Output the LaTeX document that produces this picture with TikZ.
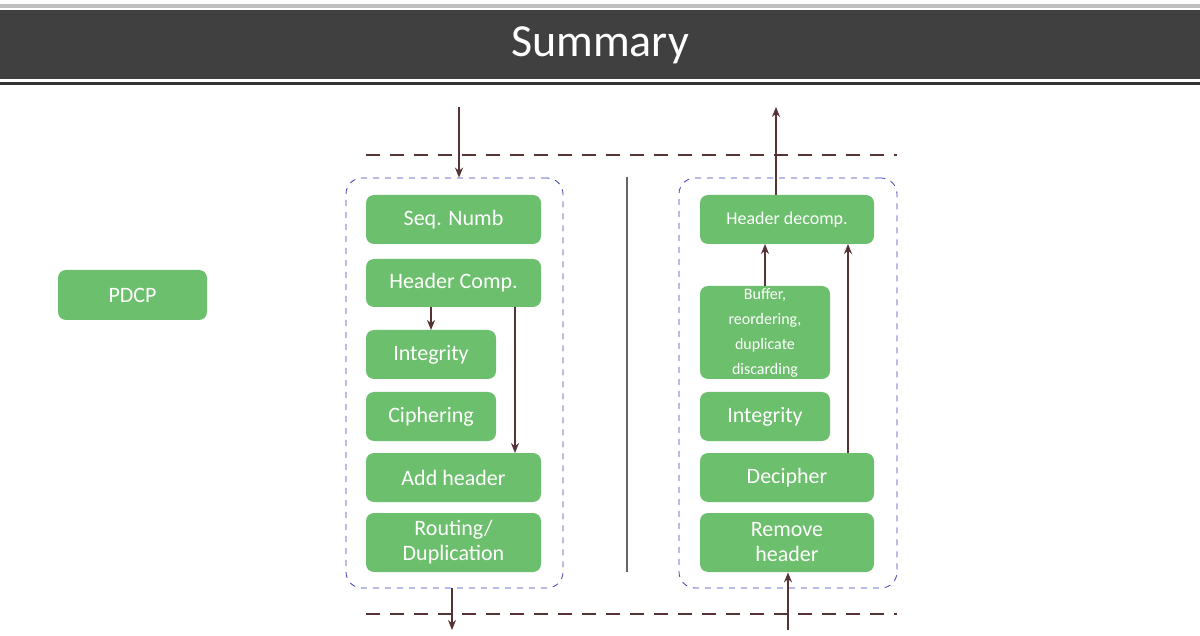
\documentclass[tikz,border=0pt]{standalone}
\usepackage{fontspec}
\setmainfont{Carlito}
\usetikzlibrary{arrows.meta}
\begin{document}
\begin{tikzpicture}[x=0.5pt,y=-0.5pt,
  box/.style={fill=boxg, rounded corners=4pt, text=white, align=center, font=\fontsize{11}{12.5}\selectfont},
  cont/.style={draw=blue!50!gray, dashed, rounded corners=8pt},
  arr/.style={draw=arrc, line width=0.9pt, -{Stealth[length=5pt,width=4pt]}},
  dl/.style={draw=arrc, line width=1pt, dash pattern=on 7pt off 5pt}]
\definecolor{boxg}{HTML}{6CBF6C}
\definecolor{arrc}{HTML}{553333}
\path[use as bounding box, fill=white] (0,0) rectangle (1200,636);
\fill[black!25] (0,4) rectangle (1200,8);
\fill[black!75] (0,10) rectangle (1200,79);
\fill[black!80] (0,82) rectangle (1200,85);
\node[text=white, font=\fontsize{23}{26}\selectfont] (title) at (600,45) {Summary};
\newcommand{\bx}[6]{\node[box, minimum width=#4*0.5pt-#2*0.5pt, minimum height=#5*0.5pt-#3*0.5pt, inner sep=1pt] (#1) at ({(#2+#4)/2},{(#3+#5)/2}) {#6};}
\bx{pdcp}{58}{270}{207}{320}{PDCP}
\node[cont, minimum width=108.5pt, minimum height=205pt] (lc) at (454.5,383) {};
\node[cont, minimum width=109pt, minimum height=205pt] (rc) at (788,383) {};
\bx{seq}{366}{195}{541}{244}{Seq. Numb}
\bx{hc}{366}{259}{541}{307}{Header Comp.}
\bx{int}{366}{330}{496}{379}{Integrity}
\bx{ciph}{366}{392}{496}{441}{Ciphering}
\bx{addh}{366}{453}{541}{502}{Add header}
\bx{rout}{366}{513}{541}{572}{Routing/\\Duplication}
\bx{hd}{700}{195}{874}{244}{\small Header decomp.}
\bx{buf}{700}{286}{830}{379}{\fontsize{8}{10.5}\selectfont Buffer,\\\fontsize{8}{10.5}\selectfont reordering,\\\fontsize{8}{10.5}\selectfont duplicate\\\fontsize{8}{10.5}\selectfont discarding}
\bx{rint}{700}{392}{830}{441}{Integrity}
\bx{dec}{700}{453}{874}{502}{Decipher}
\bx{rem}{700}{513}{874}{572}{Remove\\header}
\coordinate (dtl) at (366,155); \coordinate (dtr) at (897,155);
\coordinate (dbl) at (366,614); \coordinate (dbr) at (897,614);
\draw[dl] (dtl) -- (dtr);
\draw[dl] (dbl) -- (dbr);
\coordinate (sepT) at (627,177); \coordinate (sepB) at (627,572);
\draw[black!60, line width=0.8pt] (sepT) -- (sepB);
\coordinate (inL) at (459,107); \coordinate (outL) at (452,630);
\coordinate (outR) at (776,107); \coordinate (inR) at (788,630);
\draw[arr] (inL) -- (inL |- lc.north);
\draw[arr] (452,588) -- (outL);
\draw[arr] (431,307) -- (431,330);
\draw[arr] (515,307) -- (515,453);
\draw[arr] (hd.north -| outR) -- (outR);
\draw[arr] (inR) -- (inR |- rem.south);
\draw[arr] (765,286) -- (765,244);
\draw[arr] (848,453) -- (848,244);
\end{tikzpicture}
\end{document}
